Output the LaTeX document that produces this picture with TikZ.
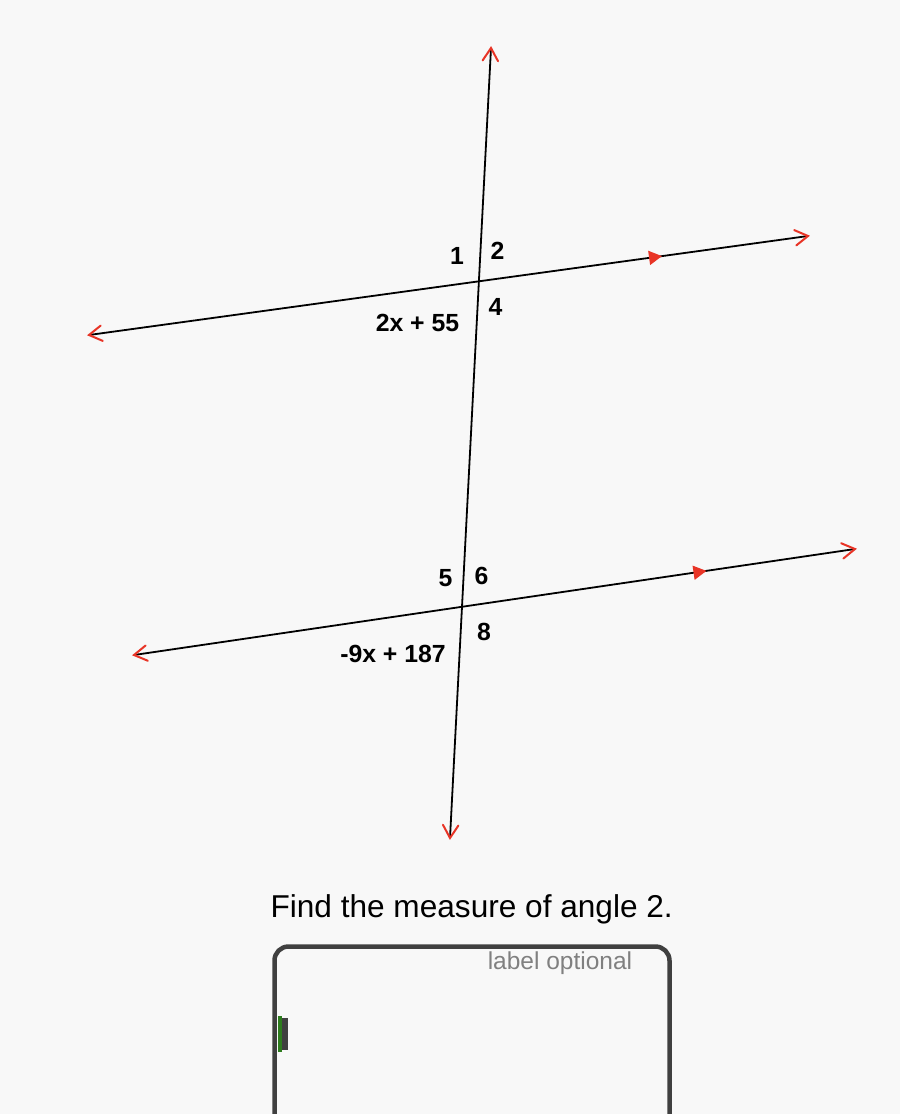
\documentclass[tikz,border=0pt]{standalone}
\usepackage{fontspec}
\setmainfont{Liberation Sans}
\usetikzlibrary{calc,arrows.meta,decorations.markings}
\definecolor{bg}{RGB}{248,248,248}
\definecolor{arrred}{RGB}{232,52,38}
\definecolor{boxgray}{RGB}{64,64,64}
\definecolor{labgray}{RGB}{128,128,128}
\definecolor{curgreen}{RGB}{46,125,30}
\newcommand\mychev[2]{\draw[barb] ($(#1)!15pt!31:(#2)$) -- (#1) -- ($(#1)!15pt!-31:(#2)$);}
\begin{document}
\begin{tikzpicture}[x=1pt,y=-1pt,
  ln/.style={black,line width=1.8pt},
  barb/.style={arrred,line width=2pt,line cap=round,line join=miter},
  midmark/.style={postaction={decorate},decoration={markings,
      mark=at position #1 with {\arrow{Triangle[length=13pt,width=14pt,color=arrred]}}}},
  ang/.style={font=\fontsize{24.8}{28}\selectfont\bfseries,inner sep=0pt,anchor=center},
]
\fill[bg] (0,0) rectangle (900,1114);
\useasboundingbox (0,0) rectangle (900,1114);

% line end points (arrow tips)
\coordinate (tA) at (491,48);
\coordinate (tB) at (450,838);
\coordinate (uL) at (89,335);
\coordinate (uR) at (808,236);
\coordinate (lL) at (134,655);
\coordinate (lR) at (855,549);

% lines
\draw[ln] (tA) -- (tB);
\draw[ln,midmark=0.797] (uL) -- (uR);
\draw[ln,midmark=0.794] (lL) -- (lR);

% open red arrow heads
\mychev{tA}{tB}
\mychev{tB}{tA}
\mychev{uL}{uR}
\mychev{uR}{uL}
\mychev{lL}{lR}
\mychev{lR}{lL}

% angle labels
\node[ang] (a1) at (457,256) {1};
\node[ang] (a2) at (497.5,250.5) {2};
\node[ang] (a4) at (495.5,307) {4};
\node[ang] (a3) at (417.5,322.5) {2x + 55};
\node[ang] (a5) at (445.5,578) {5};
\node[ang] (a6) at (481.5,575.5) {6};
\node[ang] (a8) at (484,632) {8};
\node[ang] (a7) at (393,653.5) {-9x + 187};

% question
\node[font=\fontsize{31.6}{36}\selectfont,inner sep=0pt,anchor=base] (q) at (471.7,917.3) {Find the measure of angle 2.};

% answer box
\begin{scope}
\clip (0,0) rectangle (900,1114);
\draw[boxgray,line width=4.5pt,rounded corners=14pt] (274.5,1140) -- (274.5,946.5) -- (669.5,946.5) -- (669.5,1140);
\end{scope}
\node[font=\fontsize{24.5}{28}\selectfont,text=labgray,inner sep=0pt,anchor=base] (lab) at (560,969) {label optional};
\fill[curgreen] (277.7,1016) rectangle (282,1052);
\fill[boxgray] (282,1018) rectangle (288,1050);
\end{tikzpicture}
\end{document}
